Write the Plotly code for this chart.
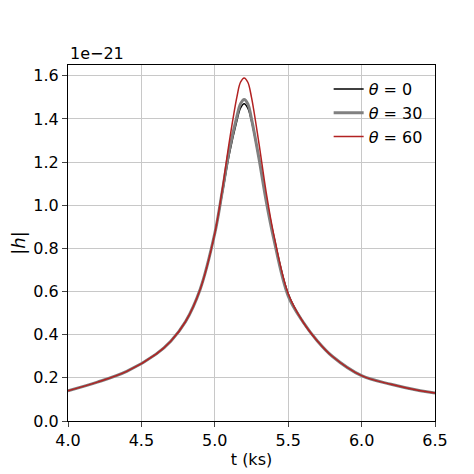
import plotly.graph_objects as go

# time in ks, |h| in units of 1e-21
t = [4.0, 4.2, 4.4, 4.6, 4.7, 4.8, 4.9, 5.0, 5.05, 5.1, 5.15, 5.175, 5.2, 5.225,
     5.25, 5.3, 5.35, 5.4, 5.5, 5.6, 5.7, 5.8, 6.0, 6.2, 6.4, 6.5]
h_0 = [0.14, 0.18, 0.23, 0.31, 0.37, 0.46, 0.61, 0.87, 1.05, 1.24, 1.39, 1.45, 1.47, 1.45,
       1.39, 1.22, 1.03, 0.86, 0.59, 0.46, 0.37, 0.30, 0.21, 0.17, 0.14, 0.13]
h_30 = [0.14, 0.18, 0.23, 0.31, 0.37, 0.46, 0.61, 0.87, 1.06, 1.26, 1.41, 1.47, 1.49, 1.47,
        1.40, 1.22, 1.02, 0.85, 0.58, 0.46, 0.37, 0.30, 0.21, 0.17, 0.14, 0.13]
h_60 = [0.14, 0.18, 0.23, 0.31, 0.37, 0.46, 0.61, 0.87, 1.07, 1.30, 1.50, 1.57, 1.59, 1.57,
        1.50, 1.29, 1.06, 0.87, 0.59, 0.46, 0.37, 0.30, 0.21, 0.17, 0.14, 0.13]

fig = go.Figure()
fig.add_trace(go.Scatter(x=t, y=h_0, mode="lines", name="<i>θ</i> = 0",
                         line=dict(color="black", width=1.5, shape="spline")))
fig.add_trace(go.Scatter(x=t, y=h_30, mode="lines", name="<i>θ</i> = 30",
                         line=dict(color="#808080", width=3, shape="spline")))
fig.add_trace(go.Scatter(x=t, y=h_60, mode="lines", name="<i>θ</i> = 60",
                         line=dict(color="#b22222", width=1.5, shape="spline")))

axis_style = dict(showline=True, linecolor="black", mirror=True, ticks="outside",
                  showgrid=True, gridcolor="#c8c8c8", zeroline=False, automargin=False,
                  tickfont=dict(size=16, color="black"))

fig.update_layout(
    width=474, height=474,
    paper_bgcolor="white", plot_bgcolor="white",
    font=dict(family="DejaVu Sans", size=16, color="black"),
    margin=dict(l=60, r=47, t=57, b=61),
    showlegend=True,
    legend=dict(x=0.98, y=0.98, xanchor="right", yanchor="top",
                bgcolor="rgba(0,0,0,0)", font=dict(size=16)),
    annotations=[dict(text="1e−21", xref="paper", yref="paper", x=0, y=1,
                      xanchor="left", yanchor="bottom", showarrow=False,
                      font=dict(size=16))],
)
fig.update_xaxes(range=[4.0, 6.5], dtick=0.5, tickformat=".1f",
                 title=dict(text="t (ks)", font=dict(size=16), standoff=4), **axis_style)
fig.update_yaxes(range=[0, 1.65], dtick=0.2, tickformat=".1f",
                 title=dict(text="|<i>h</i>|", font=dict(size=18), standoff=4), **axis_style)

fig.write_html("out.html")
